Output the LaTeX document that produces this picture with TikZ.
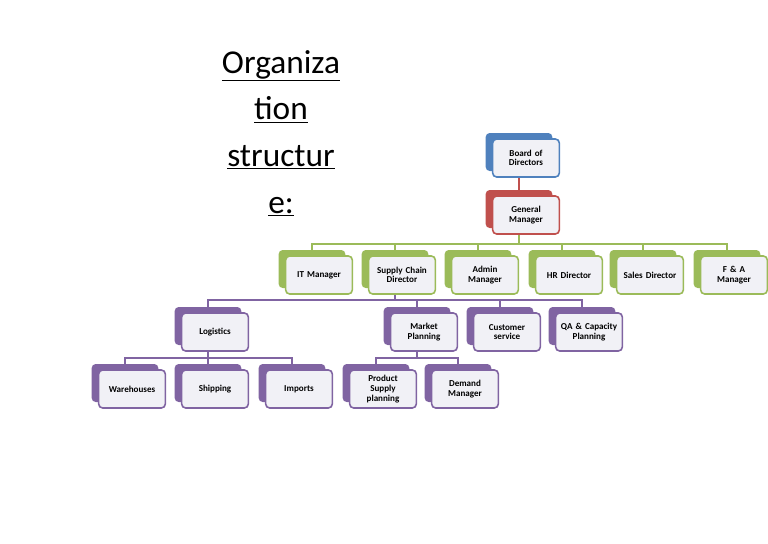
\documentclass[tikz,border=0pt]{standalone}
\usepackage{fontspec}
\setmainfont{Carlito}
\usepackage{xcolor}
\usepackage{tikz}
\usetikzlibrary{positioning, backgrounds}
\definecolor{boardblue}{RGB}{79, 129, 189}
\definecolor{gmred}{RGB}{192, 80, 77}
\definecolor{deptgreen}{RGB}{155, 187, 89}
\definecolor{unitpurple}{RGB}{128, 100, 162}
\definecolor{boxtint}{RGB}{241, 241, 246}

% one unit = coloured back card + white front card
\newcommand{\orgunit}[5]{%
	\node[backcard, fill=#4] (#1b) at (#2,#3) {};
	\node[frontcard, draw=#4] (#1) at (#2+7,#3+6) {#5};
}

\begin{document}
\begin{tikzpicture}[x=0.75pt, y=-0.75pt,
	backcard/.style={rounded corners=3pt, inner sep=0pt, minimum width=50pt, minimum height=28.5pt},
	frontcard/.style={rounded corners=3pt, fill=boxtint, line width=1.2pt, inner sep=0pt,
		minimum width=50pt, minimum height=28.5pt, text width=47pt, align=center,
		font=\fontsize{6.8}{7.2}\selectfont\bfseries},
	conn/.style={line width=1.4pt}
	]
	\useasboundingbox (0,0) rectangle (768,543);

	% title
	\node[align=center, font=\fontsize{25}{35}\selectfont] (title) at (281,133)
		{\underline{Organiza}\\\underline{tion}\\\underline{structur}\\\underline{e:}};

	% top
	\orgunit{board}{519}{152}{boardblue}{Board of\\Directors}
	\orgunit{gm}{519}{209}{gmred}{General\\Manager}

	% directors
	\orgunit{it}{312}{269}{deptgreen}{IT Manager}
	\orgunit{scd}{395}{269}{deptgreen}{Supply Chain\\Director}
	\orgunit{admin}{478}{269}{deptgreen}{Admin\\Manager}
	\orgunit{hr}{562}{269}{deptgreen}{HR Director}
	\orgunit{sales}{643}{269}{deptgreen}{Sales Director}
	\orgunit{fa}{727}{269}{deptgreen}{F \& A\\Manager}

	% supply chain
	\orgunit{logistics}{208}{326}{unitpurple}{Logistics}
	\orgunit{market}{417}{326}{unitpurple}{Market\\Planning}
	\orgunit{customer}{500}{326}{unitpurple}{Customer\\service}
	\orgunit{qa}{582}{326}{unitpurple}{QA \& Capacity\\Planning}

	% logistics and planning
	\orgunit{ware}{125}{383}{unitpurple}{Warehouses}
	\orgunit{ship}{208}{383}{unitpurple}{Shipping}
	\orgunit{imports}{292}{383}{unitpurple}{Imports}
	\orgunit{product}{376}{383}{unitpurple}{Product\\Supply\\planning}
	\orgunit{demand}{458}{383}{unitpurple}{Demand\\Manager}

	% connectors, behind the cards
	\begin{pgfonlayer}{background}
	\draw[conn, gmred] (boardb.south |- board.south) -- (gmb.north);
	\foreach \d in {it, scd, admin, hr, sales, fa}
		\draw[conn, deptgreen] (gmb.south |- gm.south) -- ++(0,9) -| (\d b.north);
	\foreach \d in {logistics, market, customer, qa}
		\draw[conn, unitpurple] (scdb.south |- scd.south) -- ++(0,5) -| (\d b.north);
	\foreach \d in {ware, ship, imports}
		\draw[conn, unitpurple] (logisticsb.south |- logistics.south) -- ++(0,6) -| (\d b.north);
	\foreach \d in {product, demand}
		\draw[conn, unitpurple] (marketb.south |- market.south) -- ++(0,6) -| (\d b.north);
	\end{pgfonlayer}
\end{tikzpicture}
\end{document}
